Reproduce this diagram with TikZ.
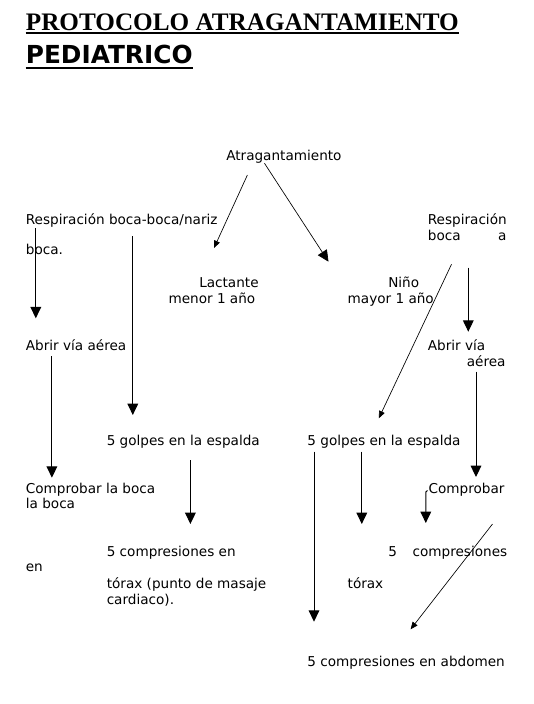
\documentclass[tikz,border=0pt]{standalone}
\usepackage{fontspec}
\setmainfont{DejaVu Sans}
\newfontfamily\serifbold{Liberation Serif}
\usetikzlibrary{calc,arrows.meta}

\begin{document}
\begin{tikzpicture}[x=0.75pt, y=-0.75pt]

\tikzset{
txt/.style={anchor=base west,inner sep=0pt,font=\fontsize{10.2}{12}\selectfont},
txtr/.style={txt,anchor=base east},
heading/.style={anchor=base west,inner sep=0pt,font=\bfseries\fontsize{18.6}{22}\selectfont},
uline/.style={line width=1.5pt},
flow/.style={-{Triangle[length=8.5pt,width=8pt]},line width=0.75pt},
bigtip/.style={-{Triangle[length=8.5pt,width=8pt]},line width=0.5pt},
thinflow/.style={-{Triangle[length=5.5pt,width=4.5pt]},line width=0.5pt}
}

\useasboundingbox (0,0) rectangle (533,704);

% Title
\node[heading,font=\serifbold\bfseries\fontsize{18.9}{22}\selectfont] (title1) at (25.6,30) {PROTOCOLO ATRAGANTAMIENTO};
\node[heading] (title2) at (25.6,63.3) {PEDIATRICO};
\draw[uline] ($(title1.base west)+(0,3.3)$) -- ($(title1.base east)+(0,3.3)$);
\draw[uline] ($(title2.base west)+(0,4.4)$) -- ($(title2.base east)+(0,4.4)$);

% Labels
\node[txt] (atrag) at (226,160) {Atragantamiento};
\node[txt] (respL) at (25.6,224) {Respiración boca-boca/nariz};
\node[txt] (respL2) at (25.6,254) {boca.};
\node[txt] (respR) at (427.6,224) {Respiración};
\node[txt] (respR2) at (427.6,240) {boca};
\node[txtr] (respR3) at (506.8,240) {a};
\node[txt] (lact) at (199,287) {Lactante};
\node[txt] (lact2) at (168.3,303) {menor 1 año};
\node[txt] (nino) at (388,287) {Niño};
\node[txt] (nino2) at (347.4,303) {mayor 1 año};
\node[txt] (abrirL) at (25.6,350) {Abrir vía aérea};
\node[txt] (abrirR) at (427.6,350) {Abrir vía};
\node[txtr] (abrirR2) at (505.8,366.7) {aérea};
\node[txt] (golpesL) at (106.5,445) {5 golpes en la espalda};
\node[txt] (golpesR) at (307.2,445) {5 golpes en la espalda};
\node[txt] (compL) at (25.6,493) {Comprobar la boca};
\node[txt] (compL2) at (25.6,508.3) {la boca};
\node[txt] (compR) at (428.3,493) {Comprobar};
\node[txt] (toraxL) at (106.5,556.7) {5 compresiones en};
\node[txt] (enL) at (25.6,571.5) {en};
\node[txt] (toraxL2) at (106.5,588.3) {tórax (punto de masaje};
\node[txt] (toraxL3) at (106.5,604.3) {cardiaco).};
\node[txt] (toraxR) at (388,556.7) {5};
\node[txtr] (toraxR2) at (507.5,556.7) {compresiones};
\node[txt] (toraxR3) at (347.4,588.3) {tórax};
\node[txt] (abdomen) at (307.2,666.7) {5 compresiones en abdomen};

% Arrow ends
\coordinate (atragL) at (247.4,175);
\coordinate (lactTop) at (214,248);
\coordinate (atragR) at (264.5,163.3);
\coordinate (ninoTop) at (328.5,261.7);
\coordinate (respLa) at (35.8,228.3);
\coordinate (abrirLTop) at (35.8,318.3);
\coordinate (respLb) at (132.8,236);
\coordinate (golpesLTop) at (132.8,415);
\coordinate (respRa) at (451.5,264.3);
\coordinate (golpesRTop) at (378.8,418.3);
\coordinate (respRb) at (468.3,267.7);
\coordinate (abrirRTop) at (468.3,331.7);
\coordinate (abrirLBot) at (51.9,356);
\coordinate (compLTop) at (51.9,477.7);
\coordinate (abrirRBot) at (476,371.7);
\coordinate (compRTop) at (476,477);
\coordinate (golpesLBot) at (190.4,460);
\coordinate (toraxLTop) at (190.4,524);
\coordinate (golpesRa) at (314,451.7);
\coordinate (abdomenTop) at (314,621.7);
\coordinate (golpesRb) at (361.8,451.7);
\coordinate (toraxRTop) at (361.8,524);
\coordinate (compRhook) at (427.5,490.5);
\coordinate (compRBot) at (425.8,492);
\coordinate (compRTip) at (425.8,523);
\coordinate (toraxRa) at (492.5,524);
\coordinate (abdomenR) at (410.6,629.3);

% Arrows
\draw[thinflow] (atragL) -- (lactTop);
\draw[bigtip] (atragR) -- (ninoTop);
\draw[flow] (respLa) -- (abrirLTop);
\draw[flow] (respLb) -- (golpesLTop);
\draw[thinflow] (respRa) -- (golpesRTop);
\draw[flow] (respRb) -- (abrirRTop);
\draw[flow] (abrirLBot) -- (compLTop);
\draw[flow] (abrirRBot) -- (compRTop);
\draw[flow] (golpesLBot) -- (toraxLTop);
\draw[flow] (golpesRa) -- (abdomenTop);
\draw[flow] (golpesRb) -- (toraxRTop);
\draw[flow] (compRhook) -- (compRBot) -- (compRTip);
\draw[thinflow] (toraxRa) -- (abdomenR);

\end{tikzpicture}
\end{document}
